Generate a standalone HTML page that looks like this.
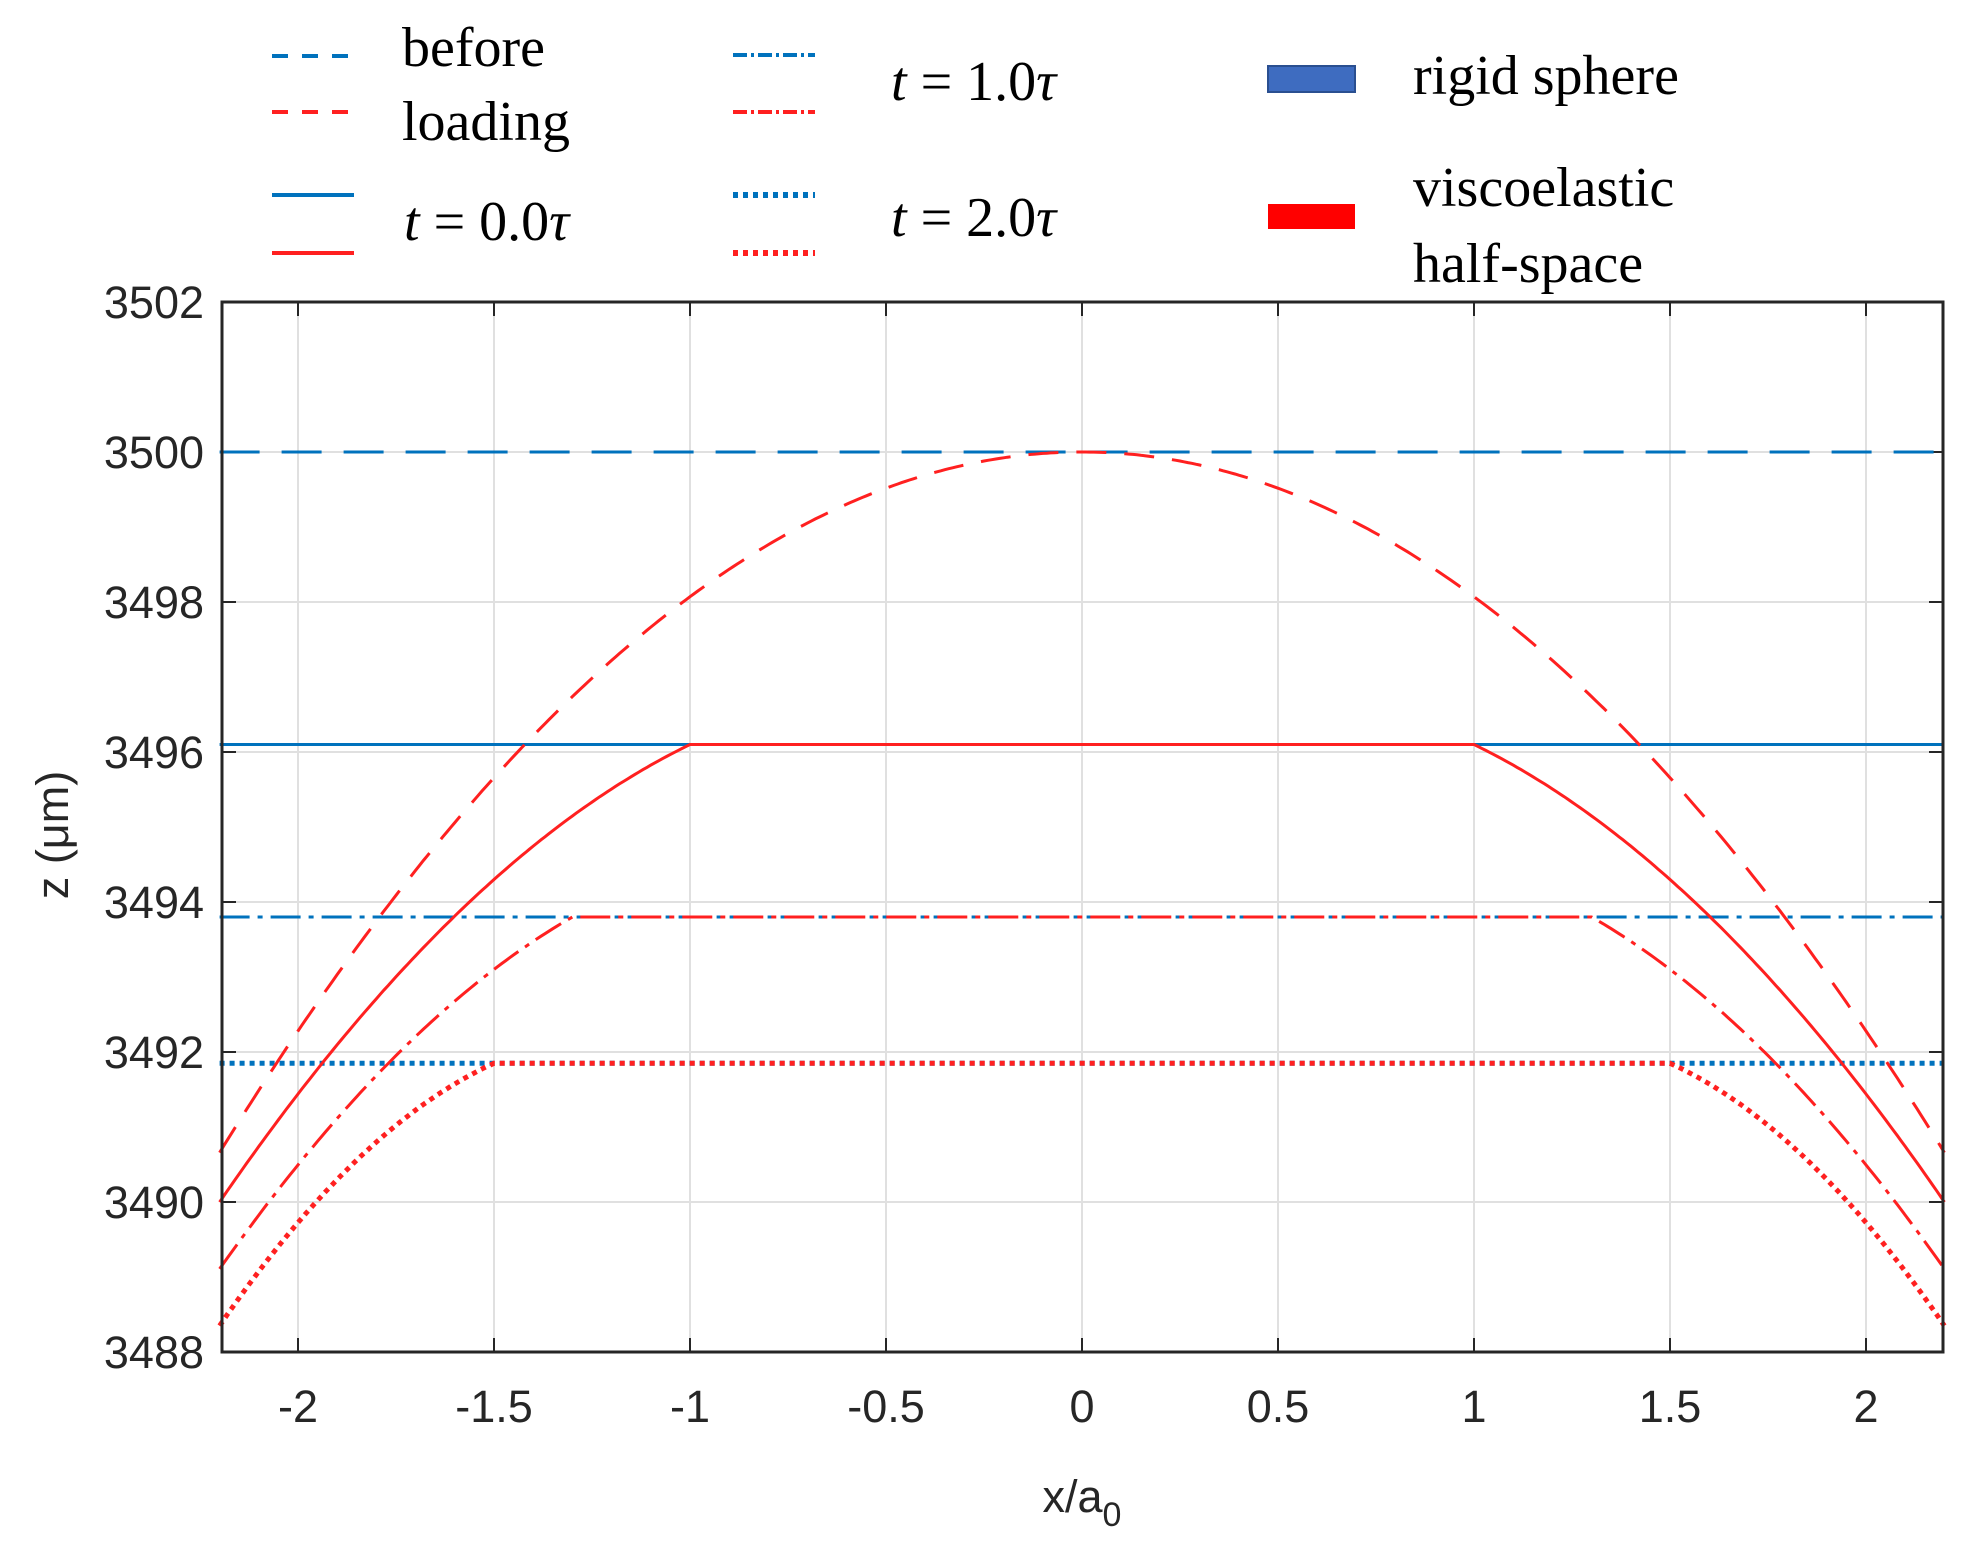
<!DOCTYPE html>
<html><head><meta charset="utf-8">
<style>
html,body{margin:0;padding:0;background:#fff;}
svg{display:block;}
.tk{font-family:"Liberation Sans",Arial,sans-serif;font-size:45px;fill:#262626;}
.lg{font-family:"Liberation Serif",serif;font-size:56px;fill:#000;}
.lgi{font-family:"Liberation Serif",serif;font-size:56px;fill:#000;font-style:italic;}
</style></head>
<body>
<svg id="s" width="1975" height="1554" viewBox="0 0 1975 1554" xmlns="http://www.w3.org/2000/svg">
<g id="grid" stroke="#e0e0e0" stroke-width="2"></g>
<g id="ticks" stroke="#262626" stroke-width="2"></g>
<g id="lbl"></g>
<g id="series" fill="none"></g>
<rect x="222" y="302" width="1721" height="1050" fill="none" stroke="#262626" stroke-width="3"/>
<text class="tk" x="1082" y="1512" text-anchor="middle" font-size="48">x/a<tspan font-size="34" dy="14">0</tspan></text>
<text class="tk" transform="translate(68,835) rotate(-90)" text-anchor="middle" font-size="48">z (μm)</text>
<g stroke-width="4" fill="none">
<line x1="272" y1="56" x2="354" y2="56" stroke="#0072BD" stroke-dasharray="16,14"/>
<line x1="272" y1="112" x2="354" y2="112" stroke="#ff2020" stroke-dasharray="16,14"/>
<line x1="272" y1="195" x2="354" y2="195" stroke="#0072BD"/>
<line x1="272" y1="253" x2="354" y2="253" stroke="#ff2020"/>
<line x1="733" y1="55" x2="815" y2="55" stroke="#0072BD" stroke-dasharray="14,4,3,4"/>
<line x1="733" y1="112" x2="815" y2="112" stroke="#ff2020" stroke-dasharray="14,4,3,4"/>
<line x1="733" y1="195" x2="815" y2="195" stroke="#0072BD" stroke-width="6" stroke-dasharray="5,5"/>
<line x1="733" y1="253" x2="815" y2="253" stroke="#ff2020" stroke-width="6" stroke-dasharray="5,5"/>
</g>
<rect x="1268" y="66" width="87" height="26" fill="#3e6cc0" stroke="#2a4f90" stroke-width="2"/>
<rect x="1268" y="204" width="87" height="25" fill="#ff0000"/>
<text class="lg" x="402" y="66">before</text>
<text class="lg" x="402" y="140">loading</text>
<text class="lgi" x="404" y="240">t <tspan font-style="normal">=  0.0</tspan>τ</text>
<text class="lgi" x="891" y="100">t <tspan font-style="normal">=  1.0</tspan>τ</text>
<text class="lgi" x="891" y="236">t <tspan font-style="normal">=  2.0</tspan>τ</text>
<text class="lg" x="1413" y="94">rigid sphere</text>
<text class="lg" x="1413" y="206">viscoelastic</text>
<text class="lg" x="1413" y="282">half-space</text>
</svg>
<script>
var NS="http://www.w3.org/2000/svg";
function X(x){return 1082+392*x;}
function Y(z){return 302+(3502-z)*75;}
function el(p,t,a){var e=document.createElementNS(NS,t);for(var k in a)e.setAttribute(k,a[k]);document.getElementById(p).appendChild(e);return e;}
var xt=[-2,-1.5,-1,-0.5,0,0.5,1,1.5,2];
xt.forEach(function(v){var x=X(v);
 el('grid','line',{x1:x,y1:302,x2:x,y2:1352});
 el('ticks','line',{x1:x,y1:302,x2:x,y2:316});
 el('ticks','line',{x1:x,y1:1352,x2:x,y2:1338});
 var t=el('lbl','text',{x:x,y:1422,'text-anchor':'middle','class':'tk'});t.textContent=String(v);
});
for(var z=3488;z<=3502;z+=2){var y=Y(z);
 el('grid','line',{x1:222,y1:y,x2:1943,y2:y});
 el('ticks','line',{x1:222,y1:y,x2:236,y2:y});
 el('ticks','line',{x1:1943,y1:y,x2:1929,y2:y});
 var t=el('lbl','text',{x:204,y:y+16,'text-anchor':'end','class':'tk'});t.textContent=String(z);
}
function path(f,dash,col,w){var d="";for(var i=0;i<=440;i++){var x=-2.2+i*0.01;d+=(i?"L":"M")+X(x).toFixed(1)+","+Y(f(x)).toFixed(1);}
 var a={d:d,stroke:col,'stroke-width':w||3};if(dash)a['stroke-dasharray']=dash;el('series','path',a);}
function prof(z0,a,A,B){return function(x){var u=Math.abs(x)-a;if(u<=0)return z0;return z0-A*u-B*u*u;};}
var BL="#0072BD",RD="#ff2020";
path(function(){return 3500;},"40,22",BL);
path(function(){return 3496.1;},null,BL);
path(function(){return 3493.8;},"30,8,5,8",BL);
path(function(){return 3491.85;},"5,5",BL,5);
path(function(x){return 3500-1.93*x*x;},"30,18",RD);
path(prof(3496.1,1.0,2.54,2.12),null,RD);
path(prof(3493.8,1.3,3.0,2.46),"30,8,5,8",RD);
path(prof(3491.85,1.5,2.375,3.75),"5,5",RD,5);
</script>
</body></html>
